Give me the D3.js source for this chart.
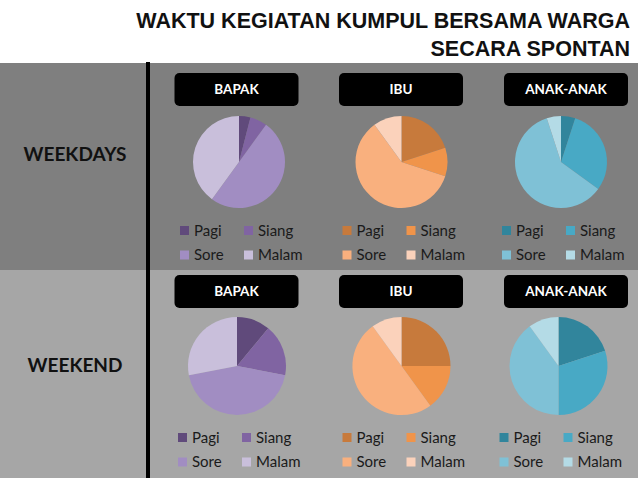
<!DOCTYPE html>
<html>
<head>
<meta charset="utf-8">
<script src="https://cdn.jsdelivr.net/npm/d3@7"></script>
<style>
  body { margin: 0; background: #fff; }
  svg { display: block; }
</style>
</head>
<body>
<div id="chart"></div>
<script>
// data (share of respondents, %)
var slots = ["Pagi", "Siang", "Sore", "Malam"];
var groups = ["BAPAK", "IBU", "ANAK-ANAK"];
var periods = ["WEEKDAYS", "WEEKEND"];

var weekdays = [
  [4, 6, 50, 40],    // bapak
  [20, 10, 60, 10],  // ibu
  [5, 30, 60, 5]     // anak-anak
];
var weekend = [
  [11, 17, 44, 28],
  [25, 15, 50, 10],
  [20, 30, 40, 10]
];

var palettes = [
  ["#604a7b", "#8064a2", "#a18dc2", "#c9bfdb"],
  ["#c77a3c", "#f0944a", "#f9b07e", "#fbd2bb"],
  ["#31859c", "#48a9c5", "#7fc1d6", "#b4dbe6"]
];

var W = 638, H = 478;

var svg = d3.select("#chart")
  .append("svg")
    .attr("width", W)
    .attr("height", H);

// bands
var bands = [
  {y: 63, h: 207, fill: "#7f7f7f", labelY: 156, boxY: 73, cy: 162, r: 46, legY: 226,
   pieX: [239, 401.5, 561], data: weekdays},
  {y: 270, h: 208, fill: "#a6a6a6", labelY: 367, boxY: 275, cy: 366, r: 49, legY: 433,
   pieX: [237, 401.5, 558.5], data: weekend}
];

svg.selectAll("rect.band")
  .data(bands)
  .enter().append("rect")
    .attr("class", "band")
    .attr("x", 0)
    .attr("y", function(d) { return d.y; })
    .attr("width", W)
    .attr("height", function(d) { return d.h; })
    .attr("fill", function(d) { return d.fill; });

// title
["WAKTU KEGIATAN KUMPUL BERSAMA WARGA", "SECARA SPONTAN"].forEach(function(t, i) {
  svg.append("text")
    .attr("x", 630).attr("y", 28 + i * 28)
    .attr("text-anchor", "end")
    .attr("font-family", "Liberation Sans, Arial, sans-serif")
    .attr("font-weight", "bold")
    .attr("font-size", 21.5)
    .attr("fill", "#111")
    .text(t);
});

// divider
svg.append("rect")
  .attr("x", 146).attr("y", 62)
  .attr("width", 4).attr("height", H - 62)
  .attr("fill", "#000");

var boxX = [236.5, 401, 566];

var pie = d3.pie().sort(null).value(function(d) { return d; });

bands.forEach(function(band, bi) {
  // row label
  svg.append("text")
    .attr("x", 75)
    .attr("y", band.labelY)
    .attr("text-anchor", "middle")
    .attr("dominant-baseline", "middle")
    .attr("font-family", "Lato, sans-serif")
    .attr("font-weight", "bold")
    .attr("font-size", 19)
    .attr("fill", "#111")
    .text(periods[bi]);

  var arc = d3.arc().innerRadius(0).outerRadius(band.r);

  groups.forEach(function(g, gi) {
    var cx = band.pieX[gi];

    // header box
    svg.append("rect")
      .attr("x", boxX[gi] - 62)
      .attr("y", band.boxY)
      .attr("width", 124)
      .attr("height", 33)
      .attr("rx", 5)
      .attr("fill", "#000");
    svg.append("text")
      .attr("x", boxX[gi])
      .attr("y", band.boxY + 21)
      .attr("text-anchor", "middle")
      .attr("font-family", "Lato, sans-serif")
      .attr("font-weight", "bold")
      .attr("font-size", 13.5)
      .attr("fill", "#fff")
      .text(g);

    // pie
    var color = d3.scaleOrdinal().domain(slots).range(palettes[gi]);
    var pg = svg.append("g")
      .attr("transform", "translate(" + cx + "," + band.cy + ")");
    pg.selectAll("path")
      .data(pie(band.data[gi]))
      .enter().append("path")
        .attr("d", arc)
        .attr("fill", function(d, i) { return color(slots[i]); });

    // legend 2x2
    var lg = svg.append("g")
      .attr("transform", "translate(" + (cx - 59) + "," + band.legY + ")");
    var items = lg.selectAll("g")
      .data(slots)
      .enter().append("g")
        .attr("transform", function(d, i) {
          return "translate(" + ((i % 2) * 64) + "," + (Math.floor(i / 2) * 24.5) + ")";
        });
    items.append("rect")
      .attr("width", 9).attr("height", 9)
      .attr("fill", function(d) { return color(d); });
    items.append("text")
      .attr("x", 14)
      .attr("y", 9.5)
      .attr("font-family", "Lato, sans-serif")
      .attr("font-size", 15)
      .attr("fill", "#1a1a1a")
      .text(function(d) { return d; });
  });
});
</script>
</body>
</html>
